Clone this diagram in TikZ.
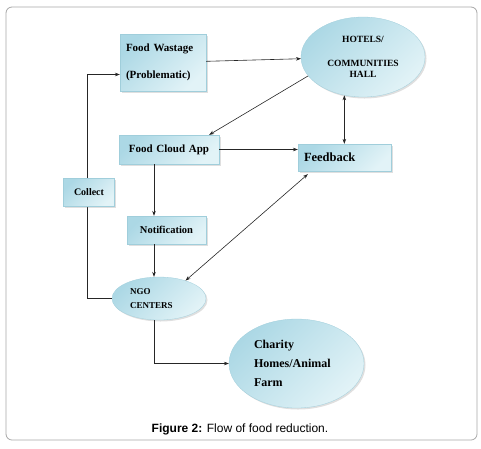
\documentclass[tikz,border=0pt]{standalone}
\usepackage{fontspec}
\setmainfont{Liberation Serif}
\newfontfamily\captionfont{Liberation Sans}
\usetikzlibrary{shapes.geometric,shadows,arrows.meta}

\definecolor{flowblue}{RGB}{172,216,229}
\definecolor{flowpale}{RGB}{226,243,247}
\definecolor{flowedge}{RGB}{160,206,219}

\begin{document}
\begin{tikzpicture}[x=1pt,y=-1pt,>={Stealth[length=5pt,width=3.6pt]},
  flowbox/.style={rectangle,draw=flowedge,line width=0.3pt,inner sep=0pt,
    left color=flowblue,right color=flowpale,shading angle=45,
    drop shadow={shadow xshift=1.5pt,shadow yshift=-1.5pt,opacity=0.25}},
  flowoval/.style={ellipse,draw=flowedge,line width=0.3pt,inner sep=0pt,
    left color=flowblue,right color=flowpale,shading angle=45,
    drop shadow={shadow xshift=1.5pt,shadow yshift=-1.5pt,opacity=0.25}},
  flow/.style={draw=black!85,line width=0.6pt}]
\useasboundingbox (0,0) rectangle (481,448);
\draw[gray!70,line width=0.8pt,rounded corners=6pt] (6,7) rectangle (477,440);

\coordinate (spine) at (154,0);

\node[flowbox,minimum width=86pt,minimum height=57pt,text width=74pt,align=left,
  font=\bfseries\fontsize{11}{13}\selectfont] (fw) at (163,62.5) {Food Wastage\\[14pt](Problematic)};
\node[flowoval,minimum width=124pt,minimum height=80pt,align=center,
  font=\bfseries\fontsize{9.5}{11}\selectfont] (hotels) at (363,57) {HOTELS/\\[13pt]COMMUNITIES\\HALL};
\node[flowbox,minimum width=100pt,minimum height=29pt,text width=90pt,align=center,
  font=\bfseries\fontsize{11}{13}\selectfont] (fca) at (169,149.5) {Food Cloud App};
\node[flowbox,minimum width=93pt,minimum height=27pt,text width=81pt,align=left,
  font=\bfseries\fontsize{12.5}{14}\selectfont] (fb) at (344.5,157.5) {Feedback};
\node[flowbox,minimum width=79pt,minimum height=28pt,text width=70pt,align=center,
  font=\bfseries\fontsize{10.5}{12}\selectfont] (notif) at (166.5,230) {Notification};
\node[flowoval,minimum width=94pt,minimum height=43pt,text width=58pt,align=left,
  font=\bfseries\fontsize{9}{14}\selectfont] (ngo) at (159,298.5) {NGO\\CENTERS};
\node[flowoval,minimum width=135pt,minimum height=89pt,text width=85pt,align=left,
  font=\bfseries\fontsize{12}{19}\selectfont] (charity) at (296.5,363.5) {Charity\\Homes/Animal\\Farm};

% collect loop back to the wastage box
\draw[flow] (ngo.west) -| (87,192);
\draw[flow,->] (87,192) |- ([yshift=-12pt]fw.west);
\node[flowbox,minimum width=51pt,minimum height=28pt,text width=45pt,align=center,
  font=\bfseries\fontsize{10}{12}\selectfont] (collect) at (89,192) {Collect};

\draw[flow,->] (fw) -- (hotels);
\draw[flow,->] (hotels.199) -- ([xshift=-10pt]fca.north east);
\draw[flow,->] (fca.east) -- (fb.west |- fca.east);
\draw[flow,<->] (hotels.244) -- (hotels.244 |- fb.north);
\draw[flow,->] (fca.south -| spine) -- (notif.north -| spine);
\draw[flow,->] (notif.south -| spine) -- (ngo.north -| spine);
\draw[flow,<->] ([xshift=10pt,yshift=-3pt]fb.south west) -- (ngo.34);
\draw[flow,->] (ngo.south -| spine) |- (charity.west);

\node[font=\captionfont\fontsize{12}{14}\selectfont] (caption) at (240,429) {\textbf{Figure 2:} Flow of food reduction.};
\end{tikzpicture}
\end{document}
